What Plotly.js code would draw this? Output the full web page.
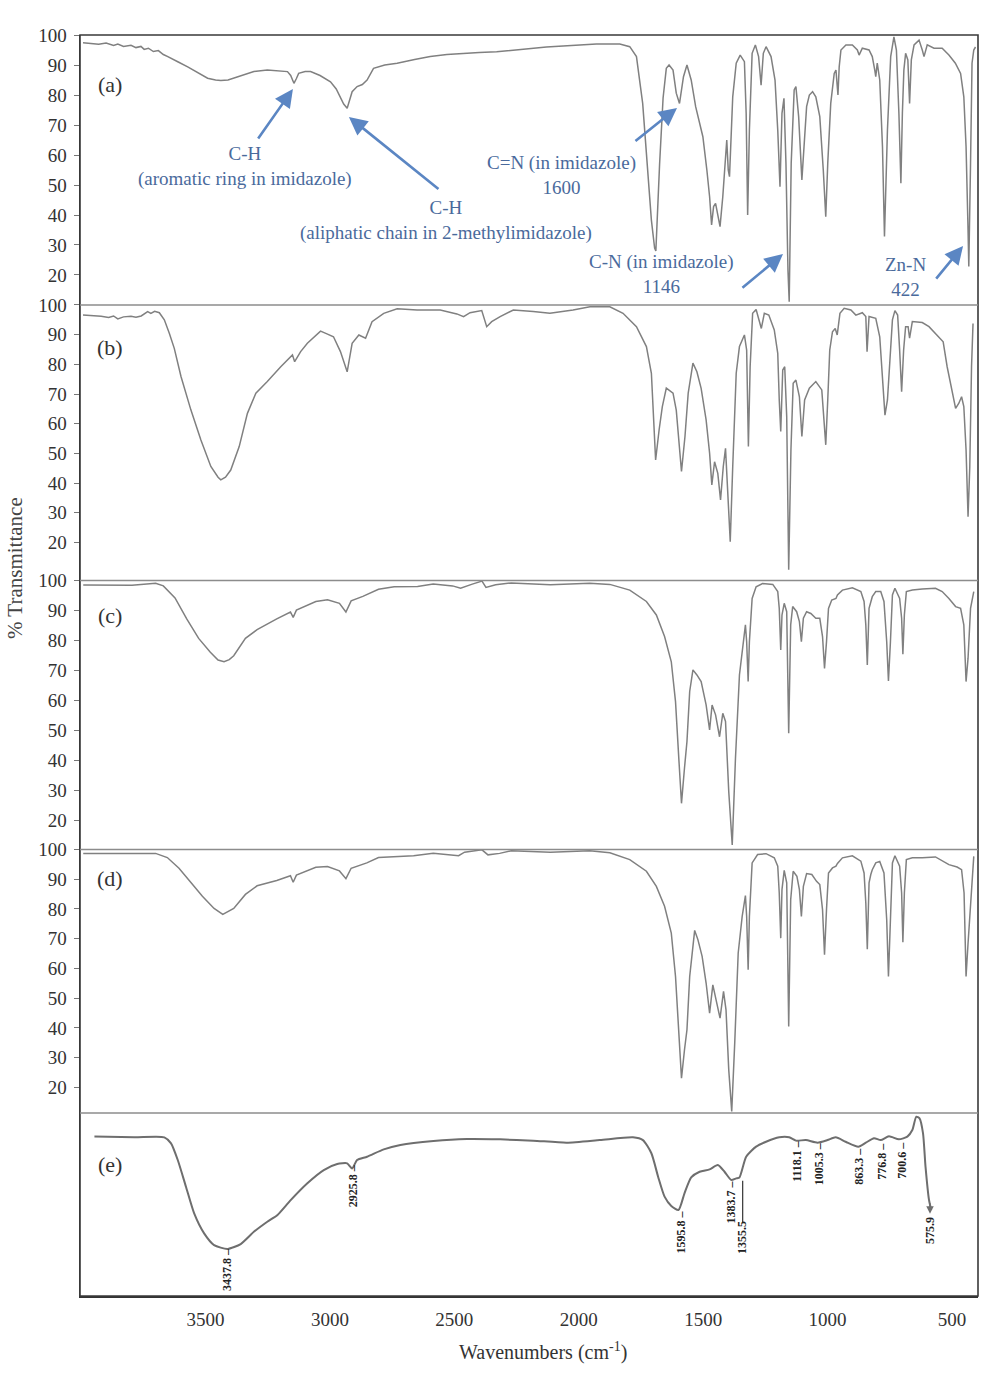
<!DOCTYPE html>
<html><head><meta charset="utf-8">
<script src="https://cdn.plot.ly/plotly-3.0.1.min.js"></script>
<style>html,body{margin:0;padding:0;background:#fff}#chart{width:994px;height:1380px}</style>
</head><body><div id="chart"></div>
<script>
// ---- data (wavenumber cm-1, % transmittance) ----
const wnA = [3993,3960,3930,3900,3870,3853,3830,3800,3780,3760,3747,3730,3710,3690,3670,3652,3630,3610,3572,3530,3492,3460,3439,3410,3386,3340,3306,3252,3200,3171,3158,3145,3135,3126,3100,3078,3040,3011,2998,2975,2958,2945,2931,2920,2911,2891,2870,2851,2825,2780,2730,2660,2597,2530,2464,2400,2330,2260,2196,2130,2063,2000,1929,1875,1835,1795,1768,1743,1723,1708,1695,1690,1675,1661,1648,1637,1621,1608,1595,1579,1565,1548,1530,1514,1501,1485,1474,1466,1458,1450,1442,1432,1421,1410,1405,1399,1394,1381,1367,1351,1334,1327,1321,1314,1303,1290,1277,1267,1258,1247,1227,1211,1200,1191,1183,1175,1167,1159,1154,1146,1134,1127,1116,1103,1093,1084,1073,1060,1047,1031,1017,1007,999,987,973,966,958,953,946,926,900,880,873,860,833,820,810,806,800,790,779,771,759,746,733,723,713,705,699,693,686,677,670,663,652,632,619,612,599,572,539,512,486,465,452,443,435,432,425,419,412,405];
const tA = [97.4,97.2,96.9,97.3,96.5,97.0,96.2,96.6,95.8,96.2,95.2,95.6,94.5,94.8,93.5,92.8,92.0,91.0,89.4,87.3,85.6,85.0,84.8,85.0,85.6,87.0,87.8,88.3,88.1,87.8,86.5,83.9,85.5,87.2,87.8,87.8,86.5,85.0,84.4,82.0,79.4,77.0,75.6,78.5,81.1,82.8,83.5,85.0,88.9,90.0,90.6,91.8,92.8,93.5,93.9,94.2,94.4,95.0,95.6,96.0,96.3,96.6,97.0,97.0,97.0,96.1,92.8,77.2,55.0,38.3,29.0,28.0,57.0,79.0,88.9,90.0,88.3,80.6,77.2,86.1,90.0,85.0,76.1,70.0,66.1,55.0,46.1,36.7,42.8,43.9,40.0,36.1,46.1,57.2,65.0,55.0,52.8,79.4,90.6,93.3,91.1,73.9,40.0,68.3,93.9,96.7,92.8,83.3,93.9,96.1,92.8,85.0,68.3,49.4,73.9,78.9,57.2,21.7,11.1,57.2,81.7,82.8,72.8,51.7,65.0,76.1,80.0,81.1,79.4,72.8,55.0,39.4,57.2,77.2,87.2,88.3,80.0,89.4,95.0,96.7,96.7,95.0,93.3,95.6,95.0,92.8,88.3,86.1,90.6,85.0,62.8,32.8,68.3,92.8,99.4,95.0,73.9,50.6,73.9,88.3,93.9,91.7,77.2,91.7,96.7,98.3,95.0,92.8,96.7,95.6,95.6,93.3,90.6,87.2,79.4,62.8,35.0,22.8,57.2,90.6,95.0,96.0];

const wnB = [3993,3950,3920,3890,3870,3853,3830,3800,3780,3759,3745,3733,3720,3705,3686,3666,3646,3626,3599,3559,3519,3479,3450,3439,3420,3399,3365,3332,3298,3252,3198,3160,3151,3142,3131,3118,3091,3060,3038,3010,2986,2958,2931,2911,2884,2857,2831,2784,2730,2650,2557,2490,2463,2437,2390,2370,2350,2316,2263,2183,2116,2023,1955,1875,1822,1768,1728,1708,1699,1691,1677,1664,1648,1621,1608,1597,1587,1573,1560,1541,1525,1508,1488,1474,1465,1454,1441,1430,1419,1410,1401,1391,1381,1367,1354,1334,1325,1318,1311,1301,1287,1274,1266,1254,1236,1214,1200,1194,1188,1180,1172,1164,1156,1147,1138,1127,1113,1103,1092,1073,1047,1023,1013,1007,999,991,980,969,961,950,933,906,886,860,846,841,833,806,790,777,769,759,750,739,729,718,710,702,694,686,676,670,659,619,592,552,535,519,499,485,472,461,452,443,435,428,421,415];
const tB = [96.6,96.4,96.2,95.8,96.3,95.3,96.0,96.2,95.9,96.3,97.2,97.8,97.2,97.9,97.4,95.0,90.5,85.4,75.9,64.6,54.5,45.6,42.0,41.1,42.0,44.4,52.3,63.5,70.3,74.2,79.2,82.5,83.2,80.9,82.6,84.3,87.1,89.5,91.2,90.2,89.3,84.3,77.5,87.1,89.9,88.8,94.4,97.2,98.7,98.3,98.3,97.0,96.1,97.4,98.1,92.7,94.4,96.1,98.3,97.8,97.2,98.3,99.4,99.4,97.2,92.7,86.0,77.0,62.4,47.8,57.9,65.8,72.0,70.3,64.6,52.3,43.9,55.7,70.3,80.4,77.5,71.9,61.3,50.1,39.4,47.2,43.3,34.3,45.6,51.7,38.8,20.3,45.6,77.0,86.0,89.9,84.8,52.3,79.2,97.2,98.5,95.0,92.1,97.2,96.6,91.6,83.7,68.0,57.4,78.1,79.2,62.4,10.8,51.2,73.6,74.7,69.1,55.7,68.0,72.0,74.2,71.4,59.0,52.9,68.0,84.8,91.0,92.1,89.9,97.2,98.9,98.3,96.6,97.4,96.1,84.3,96.1,95.5,89.3,73.6,62.9,68.0,81.5,95.0,98.1,96.6,84.8,70.8,84.8,92.7,92.7,88.8,94.4,94.1,92.7,89.3,87.6,79.2,70.3,65.2,66.9,69.1,65.8,51.2,28.7,45.6,79.2,93.8];

const wnC = [3992,3900,3796,3701,3670,3623,3576,3528,3481,3450,3426,3405,3387,3340,3293,3214,3159,3148,3135,3057,3010,2962,2936,2915,2868,2805,2742,2648,2585,2507,2475,2428,2389,2373,2334,2271,2114,1956,1875,1795,1728,1688,1655,1628,1611,1597,1587,1575,1565,1554,1541,1525,1508,1488,1474,1464,1450,1434,1421,1410,1397,1383,1370,1354,1338,1330,1325,1319,1314,1303,1287,1261,1220,1200,1194,1188,1183,1174,1164,1156,1148,1140,1124,1113,1105,1097,1084,1067,1047,1031,1020,1012,1004,996,983,966,960,940,900,866,853,846,840,833,820,806,786,773,762,755,747,739,729,718,710,702,697,691,683,659,619,566,539,512,485,465,452,443,435,425,412];
const tC = [98.5,98.4,98.4,99.1,98.2,94.2,87.2,80.7,76.1,73.5,72.9,73.6,74.9,80.7,83.6,87.2,89.5,87.7,90.1,93.0,93.6,92.4,89.5,93.2,94.7,97.1,97.9,98.0,98.8,98.2,97.4,98.8,99.8,97.7,98.6,99.2,98.6,99.1,98.7,96.8,93.0,88.5,81.3,72.9,59.6,39.6,25.7,37.4,46.3,63.0,70.2,68.5,66.3,58.5,50.2,58.5,55.2,47.9,55.7,53.0,29.6,11.8,40.7,68.5,79.6,85.2,79.6,66.3,79.6,94.0,97.9,99.0,98.7,96.3,90.7,76.8,88.5,92.4,89.6,49.1,85.2,91.3,89.6,86.3,79.6,87.4,89.6,89.0,87.4,87.4,81.3,70.7,79.6,90.7,93.5,94.0,95.2,96.8,97.6,96.3,93.0,85.2,71.8,90.7,94.6,96.3,96.3,93.0,79.6,66.5,79.6,95.2,97.4,95.2,94.0,87.4,75.4,88.5,96.3,96.8,97.2,97.4,96.3,94.0,91.3,90.7,85.2,66.3,74.1,90.7,96.3];

const wnD = [3992,3843,3701,3654,3607,3560,3513,3466,3431,3387,3340,3293,3214,3159,3148,3135,3057,3010,2962,2936,2915,2852,2805,2664,2585,2483,2459,2389,2365,2318,2271,2114,1956,1875,1795,1728,1688,1655,1628,1611,1597,1587,1575,1565,1554,1534,1521,1504,1488,1474,1461,1448,1432,1418,1408,1397,1385,1373,1359,1343,1330,1325,1319,1314,1303,1281,1247,1214,1200,1194,1188,1183,1174,1164,1156,1148,1138,1123,1113,1105,1097,1084,1063,1044,1031,1020,1012,1004,996,980,966,960,940,900,866,853,846,840,833,826,820,806,790,773,762,755,747,739,729,718,710,702,697,691,683,659,619,566,539,512,479,461,451,443,435,425,412];
const tD = [98.7,98.7,98.7,97.3,93.7,89.0,84.3,80.2,78.2,80.2,84.9,87.8,89.6,91.2,89.0,91.4,94.0,94.3,92.8,90.2,93.7,95.5,97.3,97.9,98.7,97.9,99.1,99.9,98.2,98.7,99.6,99.1,99.6,98.9,96.6,92.7,87.6,80.9,71.9,57.3,37.1,23.1,32.6,39.4,57.3,72.8,69.7,64.1,55.1,45.0,54.5,49.5,43.3,52.3,46.1,25.9,11.9,34.9,65.2,77.5,84.5,77.5,59.6,77.5,95.5,98.3,98.6,97.2,94.4,85.4,70.2,86.5,93.0,88.8,40.5,83.1,92.7,91.0,86.5,77.5,87.6,91.9,91.6,89.3,88.2,79.8,64.6,79.8,92.1,93.8,94.4,95.3,97.2,97.9,96.1,92.1,82.0,66.5,88.8,91.6,93.2,95.5,96.0,92.1,76.4,57.3,74.2,95.5,97.9,96.0,94.4,85.4,68.8,85.4,96.6,97.2,97.2,97.5,96.1,94.9,94.1,93.2,85.4,57.3,68.5,82.0,97.7];

const wnE = [3947,3786,3666,3639,3612,3579,3546,3506,3466,3412,3359,3305,3252,3211,3158,3091,3025,2971,2931,2911,2891,2851,2784,2717,2584,2450,2316,2183,2049,1915,1782,1742,1708,1681,1655,1628,1599,1575,1548,1514,1474,1441,1414,1387,1367,1354,1327,1287,1247,1194,1154,1127,1087,1040,1000,967,927,876,846,813,786,753,713,679,659,643,630,616,606,592,583];
const tE = [87.1,86.7,86.7,83.4,74.3,59.7,45.1,34.2,27.8,25.7,28.4,35.2,40.6,44.3,52.4,61.6,68.8,72.1,72.5,69.7,74.3,76.1,80.1,82.5,84.7,85.8,85.6,84.9,83.8,85.2,86.7,85.2,78.0,65.2,54.3,49.2,47.0,56.1,64.8,67.9,69.2,71.6,67.9,63.4,64.3,64.8,76.1,81.6,84.3,86.7,86.7,84.9,85.2,83.8,85.2,86.7,84.3,81.6,83.8,86.2,85.2,87.3,85.6,87.1,90.7,98.0,97.1,88.9,70.7,52.5,47.0];

const panelLabels = ['(a)','(b)','(c)','(d)','(e)'];
const xTicks = [3500,3000,2500,2000,1500,1000,500];
const yTicks = [20,30,40,50,60,70,80,90,100];
const peakLabelsE = ['3437.8','2925.8','1595.8','1383.7','1355.5','1118.1','1005.3','863.3','776.8','700.6','575.9'];

// ---- figure ----
const serif = 'Liberation Serif, Times New Roman, serif';
const blueText = '#4a6a9c', blueArrow = '#5b86c3';
const doms = [[0.78589,1],[0.56741,0.78589],[0.35408,0.56741],[0.14512,0.35408],[0,0.14512]];
const rngs = [[10,100],[7.2,100],[10.3,100],[11.4,100],[0,100]];
const series = [[wnA,tA],[wnB,tB],[wnC,tC],[wnD,tD],[wnE,tE]];
const yNames = ['y','y2','y3','y4','y5'];

const traces = series.map((s,i)=>({
  type:'scatter', mode:'lines', x:s[0], y:s[1], xaxis:'x', yaxis:yNames[i],
  line:{color: i===4 ? '#6e6e6e' : '#808080', width: i===4 ? 2 : 1.5, shape: i===4 ? 'spline' : 'linear', smoothing:0.6},
  hoverinfo:'skip', showlegend:false
}));

const layout = {
  width:994, height:1380,
  margin:{l:80, r:16, t:35, b:84, pad:0},
  paper_bgcolor:'#ffffff', plot_bgcolor:'#ffffff',
  showlegend:false,
  font:{family:serif, color:'#333'},
  xaxis:{domain:[0,1], anchor:'y5', range:[4005,395], tickmode:'array', tickvals:xTicks,
    showline:true, linecolor:'#333', linewidth:1.5, showgrid:false, zeroline:false, ticks:'',
    tickfont:{family:serif, size:19, color:'#333'}, ticklabelstandoff:6},
  shapes:[], annotations:[]
};
yNames.forEach((n,i)=>{
  const key = i===0 ? 'yaxis' : 'yaxis'+(i+1);
  const ax = {domain:doms[i], anchor:'x', range:rngs[i],
    showline:true, linecolor:'#333', linewidth:1.5, showgrid:false, zeroline:false};
  if (i===4) { ax.showticklabels = false; ax.ticks = ''; }
  else {
    Object.assign(ax, {tickmode:'array', tickvals:yTicks, ticks:'outside', ticklen:5, tickcolor:'#777', tickwidth:1,
      tickfont:{family:serif, size:19, color:'#333'}, ticklabelstandoff:3});
  }
  layout[key] = ax;
});

// frame and panel separators
layout.shapes.push({type:'rect', xref:'paper', yref:'paper', x0:0, x1:1, y0:0, y1:1, line:{color:'#3a3a3a', width:1.6}});
[0.78589,0.56741,0.35408,0.14512].forEach(yb=>{
  layout.shapes.push({type:'line', xref:'paper', yref:'paper', x0:0, x1:1, y0:yb, y1:yb, line:{color:'#8c8c8c', width:1.5}});
});

// panel letters
const labelY = [0.9611,0.7518,0.5393,0.3307,0.1039];
panelLabels.forEach((t,i)=>layout.annotations.push({xref:'paper', yref:'paper', x:0.0334, y:labelY[i], text:t, showarrow:false,
  xanchor:'center', yanchor:'middle', font:{family:serif, size:22, color:'#333'}}));

// axis titles
layout.annotations.push({xref:'paper', yref:'paper', x:-0.0724, y:0.5773, text:'% Transmittance', textangle:-90, showarrow:false,
  xanchor:'center', yanchor:'middle', font:{family:serif, size:21, color:'#444'}});
layout.annotations.push({xref:'paper', yref:'paper', x:0.5156, y:-0.0444, text:'Wavenumbers (cm<sup>-1</sup>)', showarrow:false,
  xanchor:'center', yanchor:'middle', font:{family:serif, size:20, color:'#333'}});

// panel (a) band assignments
const bandTexts = [
  {x:3342, y:56.3, t:'C-H<br>(aromatic ring in imidazole)'},
  {x:2534, y:38.3, t:'C-H<br>(aliphatic chain in 2-methylimidazole)'},
  {x:2071, y:53.2, t:'C=N (in imidazole)<br>1600'},
  {x:1669, y:20.3, t:'C-N (in imidazole)<br>1146'},
  {x:688, y:19.2, t:'Zn-N<br>422'}
];
bandTexts.forEach(b=>layout.annotations.push({xref:'x', yref:'y', x:b.x, y:b.y, text:b.t, showarrow:false,
  xanchor:'center', yanchor:'middle', align:'center', font:{family:serif, size:19, color:blueText}}));
const bandArrows = [
  [3149,82,3293,65],[2924,72.7,2558,48.3],[1605,75.7,1778,64.3],[1179,27,1348,15.3],[455,29.7,568,18.3]
];
bandArrows.forEach(a=>layout.annotations.push({xref:'x', yref:'y', x:a[0], y:a[1], axref:'x', ayref:'y', ax:a[2], ay:a[3],
  text:'', showarrow:true, arrowhead:2, arrowsize:1.4, arrowwidth:2.6, arrowcolor:blueArrow, standoff:0}));

// panel (e) peak labels
const peakPos = [[3414,14.2],[2907,60.1],[1589,35.2],[1388,51.6],[1341,32.0],[1123,73.8],[1033,72.1],[872,70.8],[782,73.8],[702,74.3],[588,36.1]];
peakLabelsE.forEach((t,i)=>{
  const txt = (t==='1355.5' || t==='575.9') ? t : t+' \u2013';
  layout.annotations.push({xref:'x', yref:'y5', x:peakPos[i][0], y:peakPos[i][1], text:'<b>'+txt+'</b>', textangle:-90, showarrow:false,
    xanchor:'center', yanchor:'middle', font:{family:'Liberation Sans Narrow, Liberation Serif, serif', size:12, color:'#222'}});
});
layout.shapes.push({type:'line', xref:'x', yref:'y5', x0:1341, x1:1341, y0:40, y1:63, line:{color:'#333', width:1.2}});
layout.annotations.push({xref:'x', yref:'y5', x:588, y:45, ax:0, ay:-12, text:'', showarrow:true, arrowhead:2, arrowsize:1, arrowwidth:1.5, arrowcolor:'#6e6e6e'});

Plotly.newPlot('chart', traces, layout, {staticPlot:true, displayModeBar:false});
</script>
</body></html>
